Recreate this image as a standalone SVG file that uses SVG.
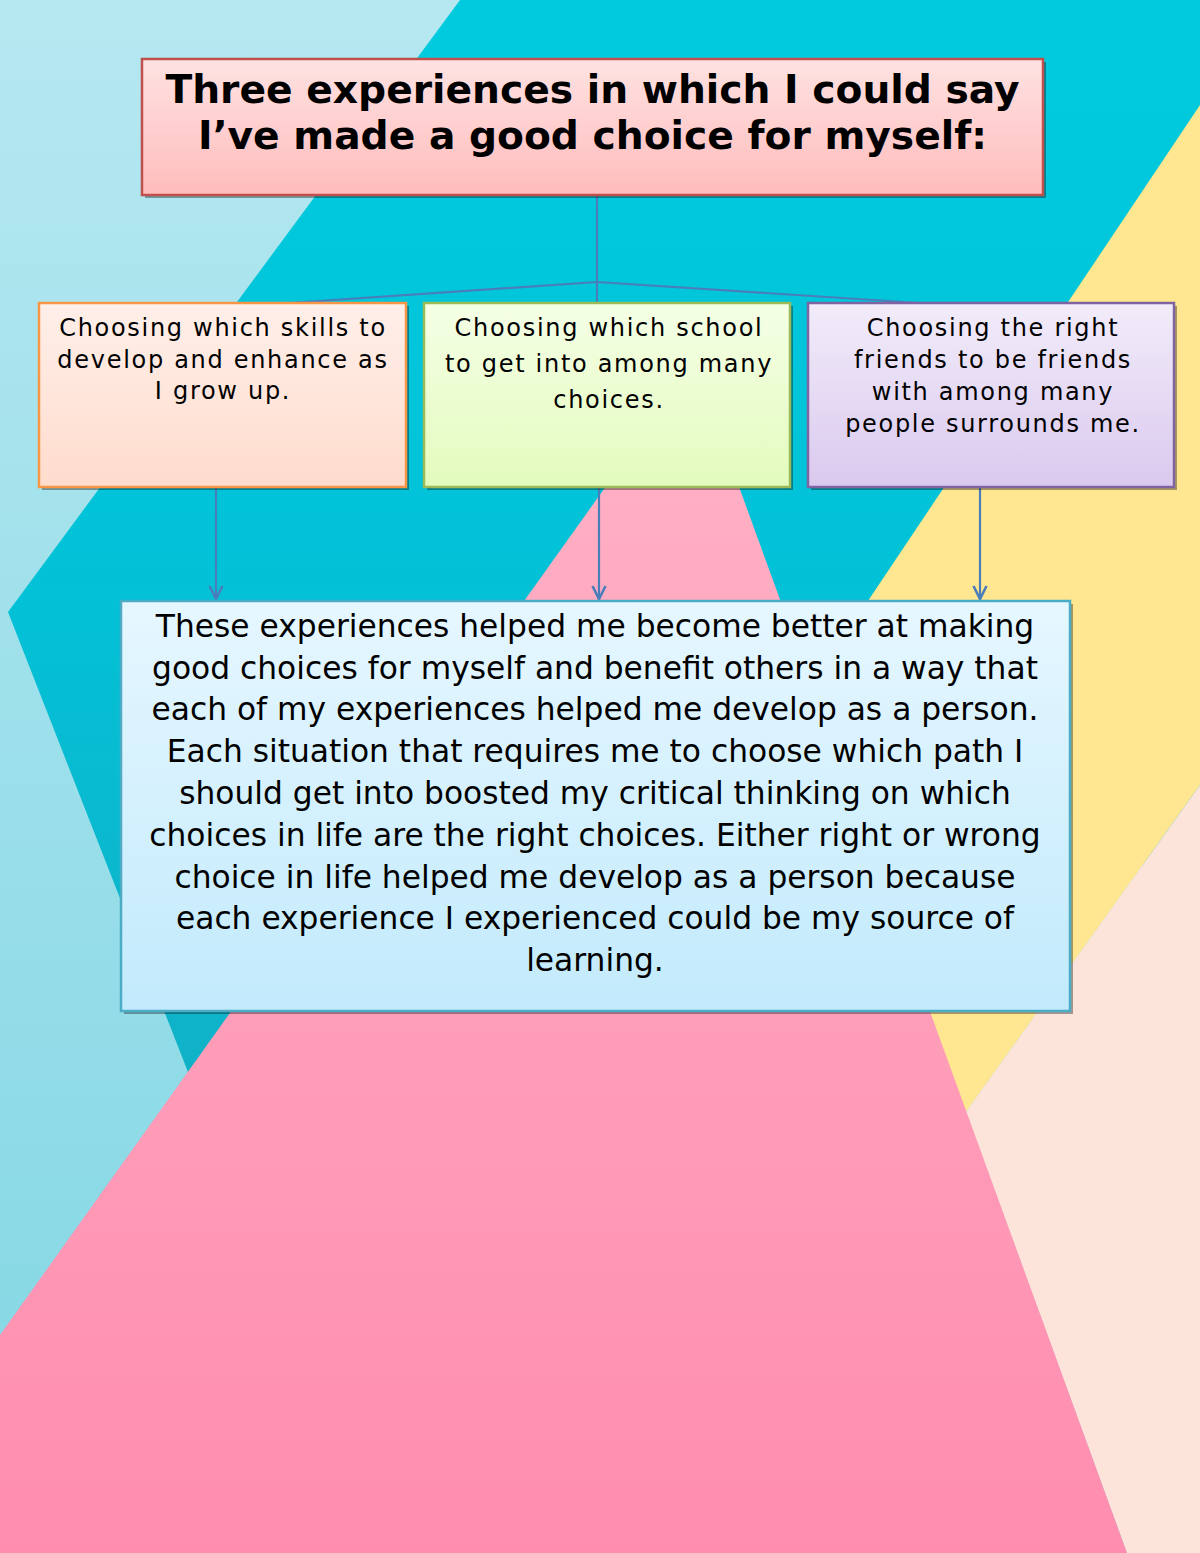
<svg xmlns="http://www.w3.org/2000/svg" width="1200" height="1553" viewBox="0 0 1200 1553">
<style>
.t{font-family:"DejaVu Sans","Noto Sans",sans-serif;fill:#000;text-anchor:middle}
.title{font-size:39.2px;font-weight:bold}
.small{font-size:24px;letter-spacing:1.7px}
.big{font-size:31.3px}
.conn{fill:none;stroke:#4a7ebb;stroke-width:2.2}
.shadow{fill:#000;opacity:0.35}
</style>
<defs>
<linearGradient id="gBg" x1="0" y1="0" x2="0" y2="1"><stop offset="0" stop-color="#b6e8f1"/><stop offset="1" stop-color="#80d6e3"/></linearGradient>
<linearGradient id="gTeal" x1="0" y1="0" x2="0" y2="1"><stop offset="0" stop-color="#00cbde"/><stop offset="0.5" stop-color="#02c2d8"/><stop offset="1" stop-color="#12b0c6"/></linearGradient>
<linearGradient id="gPink" x1="0" y1="0" x2="0" y2="1"><stop offset="0" stop-color="#ffb2c6"/><stop offset="1" stop-color="#ff8daf"/></linearGradient>
<linearGradient id="gRed" x1="0" y1="0" x2="0" y2="1"><stop offset="0" stop-color="#ffe2e2"/><stop offset="1" stop-color="#ffbcbc"/></linearGradient>
<linearGradient id="gOr" x1="0" y1="0" x2="0" y2="1"><stop offset="0" stop-color="#ffefe9"/><stop offset="1" stop-color="#ffdccd"/></linearGradient>
<linearGradient id="gGr" x1="0" y1="0" x2="0" y2="1"><stop offset="0" stop-color="#f5ffe6"/><stop offset="1" stop-color="#e3fbbd"/></linearGradient>
<linearGradient id="gPu" x1="0" y1="0" x2="0" y2="1"><stop offset="0" stop-color="#f2ecfa"/><stop offset="1" stop-color="#dac9ee"/></linearGradient>
<linearGradient id="gBl" x1="0" y1="0" x2="0" y2="1"><stop offset="0" stop-color="#e6f7ff"/><stop offset="1" stop-color="#c2eafc"/></linearGradient>
<marker id="arr" viewBox="0 0 16 16" refX="15" refY="8" markerWidth="16" markerHeight="16" markerUnits="userSpaceOnUse" orient="auto">
<path d="M2,1.5 L15,8 L2,14.5" fill="none" stroke="#4a7ebb" stroke-width="2.6"/>
</marker>
</defs>
<g id="background">
<rect x="0" y="0" width="1200" height="1553" fill="url(#gBg)"/>
<polygon points="460,0 1200,0 1200,820 820,1120 195,1090 8,612" fill="url(#gTeal)"/>
<polygon points="1200,105 1200,785 966,1112 811,686" fill="#ffe690"/>
<polygon points="1200,785 1200,1553 1127,1553 966,1112" fill="#fde4da"/>
<polygon points="694,363 1127,1553 0,1553 0,1335" fill="url(#gPink)"/>
</g>
<g id="connectors">
<path class="conn" d="M597,195 L597,308"/>
<path class="conn" d="M215,305 L275,304 L597,282 L935,304 L997,305"/>
<path class="conn" d="M216,488 L216,599" marker-end="url(#arr)"/>
<path class="conn" d="M599,488 L599,599" marker-end="url(#arr)"/>
<path class="conn" d="M980,488 L980,599" marker-end="url(#arr)"/>
</g>
<g id="node-title">
<rect class="shadow" x="145" y="62" width="901" height="136"/>
<rect x="142" y="59" width="901" height="136" fill="url(#gRed)" stroke="#c0504d" stroke-width="2.5"/>
<text class="t title" x="592.5" y="103">Three experiences in which I could say</text>
<text class="t title" x="592.5" y="149">I’ve made a good choice for myself:</text>
</g>
<g id="node-skills">
<rect class="shadow" x="42" y="306" width="367" height="184"/>
<rect x="39" y="303" width="367" height="184" fill="url(#gOr)" stroke="#f79646" stroke-width="2.5"/>
<text class="t small" x="223" y="336">Choosing which skills to</text>
<text class="t small" x="223" y="368">develop and enhance as</text>
<text class="t small" x="223" y="399">I grow up.</text>
</g>
<g id="node-school">
<rect class="shadow" x="427" y="306" width="366" height="184"/>
<rect x="424" y="303" width="366" height="184" fill="url(#gGr)" stroke="#9bbb59" stroke-width="2.5"/>
<text class="t small" x="609" y="336">Choosing which school</text>
<text class="t small" x="609" y="372">to get into among many</text>
<text class="t small" x="609" y="408">choices.</text>
</g>
<g id="node-friends">
<rect class="shadow" x="811" y="306" width="366" height="184"/>
<rect x="808" y="303" width="366" height="184" fill="url(#gPu)" stroke="#8064a2" stroke-width="2.5"/>
<text class="t small" x="993" y="336">Choosing the right</text>
<text class="t small" x="993" y="368">friends to be friends</text>
<text class="t small" x="993" y="400">with among many</text>
<text class="t small" x="993" y="432">people surrounds me.</text>
</g>
<g id="node-summary">
<rect class="shadow" x="124" y="604" width="949" height="410"/>
<rect x="121" y="601" width="949" height="410" fill="url(#gBl)" stroke="#4bacc6" stroke-width="2.5"/>
<text class="t big" x="595" y="637">These experiences helped me become better at making</text>
<text class="t big" x="595" y="679">good choices for myself and benefit others in a way that</text>
<text class="t big" x="595" y="720">each of my experiences helped me develop as a person.</text>
<text class="t big" x="595" y="762">Each situation that requires me to choose which path I</text>
<text class="t big" x="595" y="804">should get into boosted my critical thinking on which</text>
<text class="t big" x="595" y="846">choices in life are the right choices. Either right or wrong</text>
<text class="t big" x="595" y="888">choice in life helped me develop as a person because</text>
<text class="t big" x="595" y="929">each experience I experienced could be my source of</text>
<text class="t big" x="595" y="971">learning.</text>
</g>
</svg>
